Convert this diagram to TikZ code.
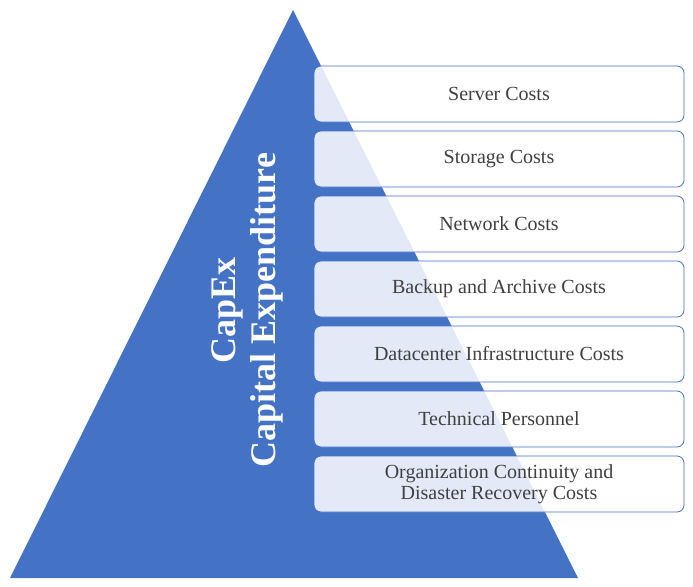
\documentclass[tikz,border=0pt]{standalone}
\usepackage{fontspec}
\setmainfont{Liberation Serif}
\definecolor{pblue}{HTML}{4472C4}
\definecolor{ptext}{HTML}{404040}
\begin{document}
\begin{tikzpicture}[x=1pt,y=-1pt,
  cbox/.style={draw=pblue,fill=white,fill opacity=0.85,text opacity=1,rounded corners=7pt,minimum width=370pt,minimum height=56pt,text=ptext,font=\fontsize{20}{21}\selectfont,align=center,inner sep=2pt,line width=0.8pt}]
\useasboundingbox (0,0) rectangle (693,586);
\fill[pblue] (293,10) -- (578,578) -- (10,578) -- cycle;
\node[rotate=90,text=white,font=\fontsize{36}{40}\selectfont\bfseries,align=center] (title) at (247,310) {CapEx\\Capital Expenditure};
\node[cbox] (b1) at (499,94) {Server Costs};
\node[cbox] (b2) at (499,159) {Storage Costs};
\node[cbox] (b3) at (499,224) {Network Costs};
\node[cbox] (b4) at (499,289) {Backup and Archive Costs};
\node[cbox] (b5) at (499,354) {Datacenter Infrastructure Costs};
\node[cbox] (b6) at (499,419) {Technical Personnel};
\node[cbox] (b7) at (499,484) {Organization Continuity and\\Disaster Recovery Costs};
\end{tikzpicture}
\end{document}
